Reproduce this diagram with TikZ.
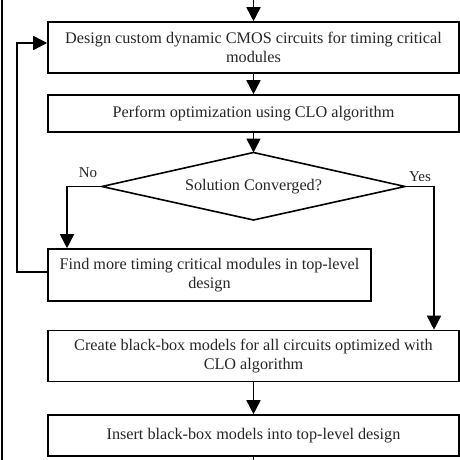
\documentclass[tikz,border=0pt]{standalone}
\usepackage{fontspec}
\setmainfont{Liberation Serif}
\usetikzlibrary{arrows.meta,calc}
\begin{document}
\begin{tikzpicture}[x=1pt,y=1pt,
  box/.style={draw,line width=1.6pt,rectangle,align=center,inner sep=0pt,font=\fontsize{16.2}{18.5}\selectfont,text=black!85},
  dtext/.style={inner sep=0pt,font=\fontsize{16.2}{18.5}\selectfont,text=black!85},
  lbl/.style={font=\fontsize{15}{17}\selectfont,text=black!85,inner sep=0pt},
  conn/.style={line width=1.6pt},
  arr/.style={line width=1.6pt,-{Triangle[width=14pt,length=14pt]}}]
\useasboundingbox (0,0) rectangle (460,-460);
\fill[white] (0,0) rectangle (460,-460);
\node[box,minimum width=411pt,minimum height=51pt] (b1) at (253.5,-47.5) {Design custom dynamic CMOS circuits for timing critical\\modules};
\node[box,minimum width=411pt,minimum height=37pt] (b2) at (253.5,-113.5) {Perform optimization using CLO algorithm};
\coordinate (dN) at (253.5,-152.5);
\coordinate (dS) at (253.5,-220);
\coordinate (dW) at (102,-186.5);
\coordinate (dE) at (405,-186.5);
\draw[conn,line join=miter] (dN) -- (dE) -- (dS) -- (dW) -- cycle;
\node[dtext] (d) at (253.5,-187) {Solution Converged?};
\node[box,minimum width=323pt,minimum height=52pt] (b4) at (209.5,-275) {Find more timing critical modules in top-level\\design};
\node[box,minimum width=411pt,minimum height=51pt] (b5) at (253.5,-356) {Create black-box models for all circuits optimized with\\CLO algorithm};
\node[box,minimum width=411pt,minimum height=41pt] (b6) at (253.5,-435.5) {Insert black-box models into top-level design};
\node[lbl] (no) at (88,-173) {No};
\node[lbl] (yes) at (420,-177) {Yes};
\coordinate (top) at (253.5,0);
\coordinate (bot) at (253.5,-462);
\coordinate (l1) at (2,2);
\coordinate (l2) at (2,-462);
\coordinate (nocorner) at (67,-186.5);
\coordinate (yescorner) at (434,-186.5);
\coordinate (loopa) at (17,-272);
\coordinate (loopb) at (17,-43);
\draw[conn,line width=2.2pt] (l1) -- (l2);
\draw[arr] (top) -- (b1.north);
\draw[arr] (b1.south) -- (b2.north);
\draw[arr] (b2.south) -- (dN);
\draw[arr] (dW) -- (nocorner) -- (nocorner |- b4.north);
\draw[arr] (dE) -- (yescorner) -- (yescorner |- b5.north);
\draw[arr] (b4.west |- loopa) -- (loopa) -- (loopb) -- (b1.west |- loopb);
\draw[arr] (b5.south) -- (b6.north);
\draw[conn] (b6.south) -- (bot);
\end{tikzpicture}
\end{document}
